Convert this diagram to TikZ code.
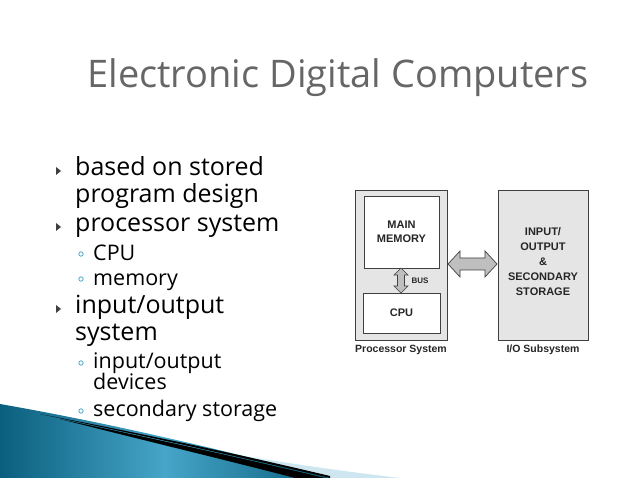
\documentclass[tikz,border=0pt]{standalone}
\usepackage{fontspec}
\setmainfont{Open Sans}
\newfontfamily\arialf{Liberation Sans}
\definecolor{tdark}{RGB}{10,95,125}
\definecolor{tmid}{RGB}{70,165,200}
\definecolor{tpale}{RGB}{205,230,240}
\definecolor{ringc}{RGB}{80,170,200}
\begin{document}
\begin{tikzpicture}[x=1pt,y=-1pt,
  box/.style={draw=black!75,line width=0.8pt},
  lab/.style={font=\arialf\bfseries\fontsize{10.5}{12}\selectfont,align=center,text=black!85},
  inl/.style={font=\arialf\bfseries\fontsize{11}{13.5}\selectfont,align=center,text=black!85},
  l1/.style={anchor=base west,font=\fontsize{25}{28}\selectfont,inner sep=0},
  l2/.style={anchor=base west,font=\fontsize{21.5}{24}\selectfont,inner sep=0},
  tri/.style={fill=black!75},
  ring/.style={draw=ringc,line width=0.8pt},
  arr/.style={fill=black!25,draw=black!75,line width=0.7pt}]
\useasboundingbox (0,0) rectangle (638,478);
\fill[white] (0,0) rectangle (638,478);
% swoosh
\fill[tpale] (130,436) .. controls (230,455) and (330,470) .. (400,478) -- (320,478) .. controls (250,460) and (190,446) .. (130,436) -- cycle;
\shade[left color=tdark,right color=tdark,middle color=tmid]
  (0,404) .. controls (120,425) and (230,452) .. (330,478) -- (0,478) -- cycle;
\fill[black] (40,414) .. controls (150,435) and (250,457) .. (330,476) -- (330,478) .. controls (240,457) and (140,435) .. (40,414) -- cycle;
\fill[black] (60,419) .. controls (160,440) and (250,460) .. (325,478) -- (295,478) .. controls (230,461) and (150,442) .. (60,419) -- cycle;
% title
\node[anchor=base,text=black!60,font=\fontsize{38}{42}\selectfont] (title) at (338,88) {Electronic Digital Computers};
% bullets
\foreach \y in {175,231,313} \fill[tri] (56,\y-8) -- (61,\y-4) -- (56,\y) -- cycle;
\node[l1] (b1) at (75,176) {based on stored};
\node[l1] (b1b) at (75,203) {program design};
\node[l1] (b2) at (75,232) {processor system};
\node[l1] (b3) at (75,314) {input/output};
\node[l1] (b3b) at (75,341) {system};
\foreach \y in {260,285,369,417} \draw[ring] (81,\y-6) circle (2.2);
\node[l2] (c1) at (93,261) {CPU};
\node[l2] (c2) at (93,286) {memory};
\node[l2] (c3) at (93,369) {input/output};
\node[l2] (c3b) at (93,390) {devices};
\node[l2] (c4) at (93,417) {secondary storage};
% diagram
\node[box,fill=black!10,minimum width=92,minimum height=150,inner sep=0] (proc) at (401,265) {};
\node[box,fill=white,minimum width=75,minimum height=72,inner sep=0] (mem) at (401.5,232) {};
\node[inl] at (401.5,232) {MAIN\\MEMORY};
\node[box,fill=white,minimum width=77,minimum height=40,inner sep=0,inl] (cpu) at (401.5,313) {CPU};
\node[box,fill=black!10,minimum width=90,minimum height=150,inner sep=0] (io) at (543,265) {};
\node[inl,font=\arialf\bfseries\fontsize{11}{15}\selectfont] at (543,262) {INPUT/\\OUTPUT\\\&\\SECONDARY\\STORAGE};
\node[lab,font=\arialf\bfseries\fontsize{8}{9}\selectfont] at (420,281) {BUS};
\node[lab,anchor=base] (pl) at (401,353) {Processor System};
\node[lab,anchor=base] (il) at (543,353) {I/O Subsystem};
% horizontal double arrow
\draw[arr] (448,264) -- (460,251) -- (460,258) -- (485,258) -- (485,251) -- (497,264) -- (485,277) -- (485,270) -- (460,270) -- (460,277) -- cycle;
% bus arrow
\draw[arr] (401,268) -- (408,275) -- (404.5,275) -- (404.5,286) -- (408,286) -- (401,293) -- (394,286) -- (397.5,286) -- (397.5,275) -- (394,275) -- cycle;
\end{tikzpicture}
\end{document}
